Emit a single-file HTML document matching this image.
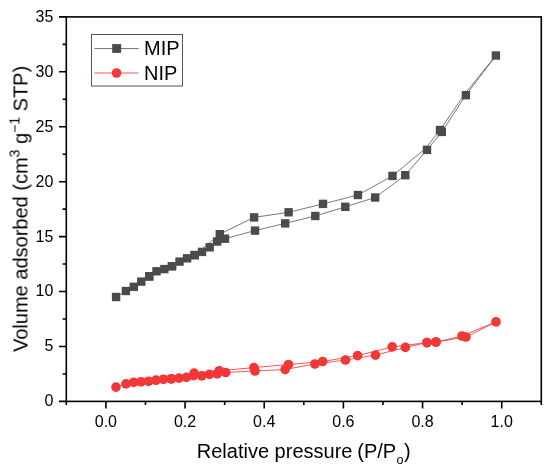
<!DOCTYPE html>
<html><head><meta charset="utf-8"><style>
html,body{margin:0;padding:0;background:#fff;}
svg{display:block;font-family:"Liberation Sans",sans-serif;}
text{will-change:transform;}
</style></head><body>
<svg width="550" height="470" viewBox="0 0 550 470">
<rect width="550" height="470" fill="#fff"/>
<path d="M59,401.40H66.3 M62.6,373.93H66.3 M59,346.47H66.3 M62.6,319.00H66.3 M59,291.54H66.3 M62.6,264.07H66.3 M59,236.61H66.3 M62.6,209.14H66.3 M59,181.68H66.3 M62.6,154.21H66.3 M59,126.75H66.3 M62.6,99.28H66.3 M59,71.82H66.3 M62.6,44.35H66.3 M59,16.89H66.3 M66.32,401.4V404.9 M105.90,401.4V408.6 M145.48,401.4V404.9 M185.07,401.4V408.6 M224.65,401.4V404.9 M264.23,401.4V408.6 M303.81,401.4V404.9 M343.40,401.4V408.6 M382.98,401.4V404.9 M422.56,401.4V408.6 M462.15,401.4V404.9 M501.73,401.4V408.6 M541.31,401.4V404.9" stroke="#000" stroke-width="1.6" fill="none"/>
<rect x="66.3" y="16.9" width="475" height="384.5" fill="none" stroke="#000" stroke-width="1.6"/>
<text x="53.4" y="406.3" text-anchor="end" font-size="16">0</text>
<text x="53.4" y="351.4" text-anchor="end" font-size="16">5</text>
<text x="53.4" y="296.4" text-anchor="end" font-size="16">10</text>
<text x="53.4" y="241.5" text-anchor="end" font-size="16">15</text>
<text x="53.4" y="186.6" text-anchor="end" font-size="16">20</text>
<text x="53.4" y="131.6" text-anchor="end" font-size="16">25</text>
<text x="53.4" y="76.7" text-anchor="end" font-size="16">30</text>
<text x="53.4" y="21.8" text-anchor="end" font-size="16">35</text>
<text x="105.9" y="426.6" text-anchor="middle" font-size="16">0.0</text>
<text x="185.1" y="426.6" text-anchor="middle" font-size="16">0.2</text>
<text x="264.2" y="426.6" text-anchor="middle" font-size="16">0.4</text>
<text x="343.4" y="426.6" text-anchor="middle" font-size="16">0.6</text>
<text x="422.6" y="426.6" text-anchor="middle" font-size="16">0.8</text>
<text x="501.7" y="426.6" text-anchor="middle" font-size="16">1.0</text>
<polyline points="495.9,55.5 464.6,94.2 440.0,130.0 425.4,148.6 392.5,175.9 357.9,195.0 323.0,203.9 288.6,212.3 254.1,217.4 219.8,234.2 194.7,255.1 172.0,266.2 149.2,276.4" fill="none" stroke="#555555" stroke-width="0.8"/>
<polyline points="116.1,297.0 125.9,291.0 133.8,286.8 141.3,281.6 149.2,276.4 156.5,271.3 164.3,269.1 172.0,266.2 179.5,261.6 187.1,258.3 194.7,255.1 202.0,251.9 209.7,247.3 217.1,241.5 225.0,238.7 255.0,230.6 285.2,223.4 315.3,216.0 345.3,206.8 375.2,197.5 405.3,175.2 427.0,149.9 441.8,131.9 465.9,95.2 495.9,55.5" fill="none" stroke="#555555" stroke-width="0.8"/>
<polyline points="496.0,321.9 462.0,336.0 436.0,342.0 427.0,342.6 392.2,346.9 357.6,355.6 322.7,361.5 288.5,364.5 253.9,367.6 219.3,370.8 194.1,373.1 171.3,378.8" fill="none" stroke="#f23737" stroke-width="1" stroke-opacity="0.85"/>
<polyline points="116.0,387.1 126.0,383.9 133.6,382.4 141.0,381.8 148.6,381.3 156.0,380.2 163.4,379.3 171.3,378.8 179.0,378.1 186.3,377.4 193.6,375.6 201.8,375.8 209.5,374.4 217.2,373.8 225.7,372.5 255.0,371.0 285.1,369.5 314.9,364.0 345.5,360.0 375.5,355.1 405.4,347.4 427.0,342.6 436.0,342.0 466.0,337.0 496.0,321.9" fill="none" stroke="#f23737" stroke-width="1" stroke-opacity="0.85"/>
<rect x="111.90" y="292.80" width="8.4" height="8.4" fill="#4b4b4b"/>
<rect x="121.70" y="286.80" width="8.4" height="8.4" fill="#4b4b4b"/>
<rect x="129.60" y="282.60" width="8.4" height="8.4" fill="#4b4b4b"/>
<rect x="137.10" y="277.40" width="8.4" height="8.4" fill="#4b4b4b"/>
<rect x="145.00" y="272.20" width="8.4" height="8.4" fill="#4b4b4b"/>
<rect x="152.30" y="267.10" width="8.4" height="8.4" fill="#4b4b4b"/>
<rect x="160.10" y="264.90" width="8.4" height="8.4" fill="#4b4b4b"/>
<rect x="167.80" y="262.00" width="8.4" height="8.4" fill="#4b4b4b"/>
<rect x="175.30" y="257.40" width="8.4" height="8.4" fill="#4b4b4b"/>
<rect x="182.90" y="254.10" width="8.4" height="8.4" fill="#4b4b4b"/>
<rect x="190.50" y="250.90" width="8.4" height="8.4" fill="#4b4b4b"/>
<rect x="197.80" y="247.70" width="8.4" height="8.4" fill="#4b4b4b"/>
<rect x="205.50" y="243.10" width="8.4" height="8.4" fill="#4b4b4b"/>
<rect x="212.90" y="237.30" width="8.4" height="8.4" fill="#4b4b4b"/>
<rect x="220.80" y="234.50" width="8.4" height="8.4" fill="#4b4b4b"/>
<rect x="250.80" y="226.40" width="8.4" height="8.4" fill="#4b4b4b"/>
<rect x="281.00" y="219.20" width="8.4" height="8.4" fill="#4b4b4b"/>
<rect x="311.10" y="211.80" width="8.4" height="8.4" fill="#4b4b4b"/>
<rect x="341.10" y="202.60" width="8.4" height="8.4" fill="#4b4b4b"/>
<rect x="371.00" y="193.30" width="8.4" height="8.4" fill="#4b4b4b"/>
<rect x="401.10" y="171.00" width="8.4" height="8.4" fill="#4b4b4b"/>
<rect x="422.80" y="145.70" width="8.4" height="8.4" fill="#4b4b4b"/>
<rect x="437.60" y="127.70" width="8.4" height="8.4" fill="#4b4b4b"/>
<rect x="461.70" y="91.00" width="8.4" height="8.4" fill="#4b4b4b"/>
<rect x="491.70" y="51.30" width="8.4" height="8.4" fill="#4b4b4b"/>
<rect x="435.80" y="125.80" width="8.4" height="8.4" fill="#4b4b4b"/>
<rect x="388.30" y="171.70" width="8.4" height="8.4" fill="#4b4b4b"/>
<rect x="353.70" y="190.80" width="8.4" height="8.4" fill="#4b4b4b"/>
<rect x="318.80" y="199.70" width="8.4" height="8.4" fill="#4b4b4b"/>
<rect x="284.40" y="208.10" width="8.4" height="8.4" fill="#4b4b4b"/>
<rect x="249.90" y="213.20" width="8.4" height="8.4" fill="#4b4b4b"/>
<rect x="215.60" y="230.00" width="8.4" height="8.4" fill="#4b4b4b"/>
<rect x="190.50" y="250.90" width="8.4" height="8.4" fill="#4b4b4b"/>
<rect x="167.80" y="262.00" width="8.4" height="8.4" fill="#4b4b4b"/>
<rect x="145.00" y="272.20" width="8.4" height="8.4" fill="#4b4b4b"/>
<circle cx="116.00" cy="387.10" r="4.85" fill="#f23737"/>
<circle cx="126.00" cy="383.90" r="4.85" fill="#f23737"/>
<circle cx="133.60" cy="382.40" r="4.85" fill="#f23737"/>
<circle cx="141.00" cy="381.80" r="4.85" fill="#f23737"/>
<circle cx="148.60" cy="381.30" r="4.85" fill="#f23737"/>
<circle cx="156.00" cy="380.20" r="4.85" fill="#f23737"/>
<circle cx="163.40" cy="379.30" r="4.85" fill="#f23737"/>
<circle cx="171.30" cy="378.80" r="4.85" fill="#f23737"/>
<circle cx="179.00" cy="378.10" r="4.85" fill="#f23737"/>
<circle cx="186.30" cy="377.40" r="4.85" fill="#f23737"/>
<circle cx="193.60" cy="375.60" r="4.85" fill="#f23737"/>
<circle cx="201.80" cy="375.80" r="4.85" fill="#f23737"/>
<circle cx="209.50" cy="374.40" r="4.85" fill="#f23737"/>
<circle cx="217.20" cy="373.80" r="4.85" fill="#f23737"/>
<circle cx="225.70" cy="372.50" r="4.85" fill="#f23737"/>
<circle cx="255.00" cy="371.00" r="4.85" fill="#f23737"/>
<circle cx="285.10" cy="369.50" r="4.85" fill="#f23737"/>
<circle cx="314.90" cy="364.00" r="4.85" fill="#f23737"/>
<circle cx="345.50" cy="360.00" r="4.85" fill="#f23737"/>
<circle cx="375.50" cy="355.10" r="4.85" fill="#f23737"/>
<circle cx="405.40" cy="347.40" r="4.85" fill="#f23737"/>
<circle cx="427.00" cy="342.60" r="4.85" fill="#f23737"/>
<circle cx="436.00" cy="342.00" r="4.85" fill="#f23737"/>
<circle cx="466.00" cy="337.00" r="4.85" fill="#f23737"/>
<circle cx="496.00" cy="321.90" r="4.85" fill="#f23737"/>
<circle cx="462.00" cy="336.00" r="4.85" fill="#f23737"/>
<circle cx="436.00" cy="342.00" r="4.85" fill="#f23737"/>
<circle cx="427.00" cy="342.60" r="4.85" fill="#f23737"/>
<circle cx="392.20" cy="346.90" r="4.85" fill="#f23737"/>
<circle cx="357.60" cy="355.60" r="4.85" fill="#f23737"/>
<circle cx="322.70" cy="361.50" r="4.85" fill="#f23737"/>
<circle cx="288.50" cy="364.50" r="4.85" fill="#f23737"/>
<circle cx="253.90" cy="367.60" r="4.85" fill="#f23737"/>
<circle cx="219.30" cy="370.80" r="4.85" fill="#f23737"/>
<circle cx="194.10" cy="373.10" r="4.85" fill="#f23737"/>
<circle cx="171.30" cy="378.80" r="4.85" fill="#f23737"/>
<rect x="91.5" y="34.5" width="91" height="51.5" fill="#fff" stroke="#555" stroke-width="1"/>
<path d="M94.4,48.6H138.6" stroke="#4b4b4b" stroke-width="0.8"/>
<rect x="112.50" y="44.30" width="8.4" height="8.4" fill="#4b4b4b" stroke="#333333" stroke-width="0.5"/>
<path d="M94.4,73.0H138.6" stroke="#f23737" stroke-width="1" stroke-opacity="0.85"/>
<circle cx="116.6" cy="73.0" r="4.85" fill="#f23737"/>
<text x="144.0" y="55.4" font-size="20">MIP</text>
<text x="144.0" y="79.7" font-size="20">NIP</text>
<text x="196.8" y="458.2" font-size="20">Relative pressure <tspan dx="-0.7">(P/P</tspan><tspan font-size="12.6" dx="0.3" dy="5.3">o</tspan><tspan dx="0.6" dy="-5.3">)</tspan></text>
<text transform="translate(27.5,351.9) rotate(-90)" x="0" y="0" font-size="20">Volume adsorbed (cm<tspan font-size="14" dy="-8">3</tspan><tspan dy="8"> g</tspan><tspan font-size="14" dy="-8">−1</tspan><tspan dy="8"> STP)</tspan></text>
</svg>
</body></html>
